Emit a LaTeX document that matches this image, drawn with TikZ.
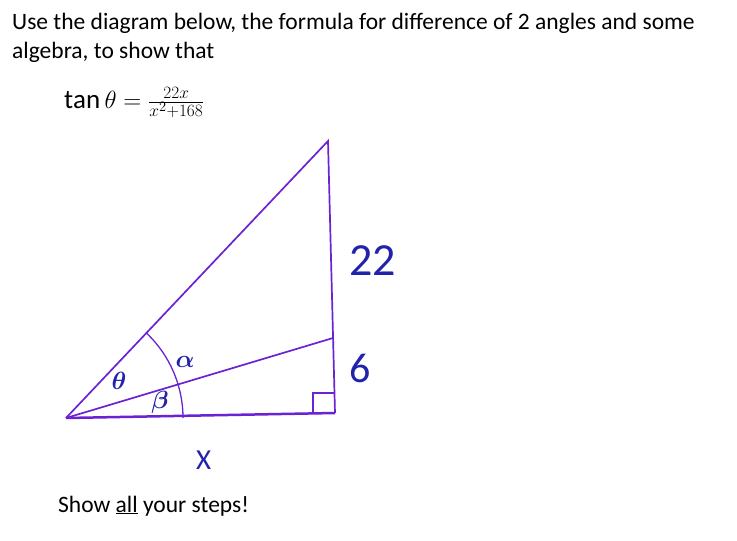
\documentclass[tikz,border=0pt]{standalone}
\usepackage{fontspec}
\setmainfont{Carlito}
\usetikzlibrary{positioning}
\definecolor{edgepurple}{RGB}{106,34,210}
\definecolor{labelblue}{RGB}{34,34,170}
\tikzset{
    side/.style={draw=edgepurple, line width=1.7pt},
    base side/.style={draw=edgepurple, line width=2.5pt},
    angle label/.style={text=labelblue, font=\fontsize{30}{34}\selectfont\boldmath, inner sep=0pt},
    length label/.style={text=labelblue, inner sep=0pt, anchor=base west},
    prose/.style={font=\fontsize{23.5}{28}\selectfont, inner sep=0pt, anchor=base west}
}
\begin{document}
\begin{tikzpicture}[x=1pt,y=-1pt]
    \useasboundingbox (0,0) rectangle (737,541);
    % question text
    \node[prose] (line1) at (12,29) {Use the diagram below, the formula for difference of 2 angles and some};
    \node[prose] (line2) at (12,58) {algebra, to show that};
    \node[prose, font=\fontsize{27}{30}\selectfont] (formula) at (64,108) {$\tan\theta = \frac{22x}{x^2+168}$};
    % triangle corners
    \coordinate (O) at (66,418);
    \coordinate (C) at (335,413);
    \coordinate (T) at (328,141);
    \coordinate (M) at (333,338);
    \draw[side] (O) -- (T) -- (C);
    \draw[base side] (O) -- (C);
    \draw[side] (O) -- (M);
    % right angle
    \draw[side, line width=1.3pt] (313,413) -- (313,393) -- (334,393);
    % angle arc
    \draw[side, line width=1.3pt] (O) ++(-46.6:117) arc[start angle=-46.6, end angle=0, radius=117];
    % labels
    \node[angle label] (theta) at (119,381) {$\theta$};
    \node[angle label] (alpha) at (185,362) {$\alpha$};
    \node[angle label] (beta) at (160,402) {$\beta$};
    \node[length label, font=\fontsize{46}{50}\selectfont] (big) at (349,275) {22};
    \node[length label, font=\fontsize{42}{46}\selectfont] (small) at (349,382) {6};
    \node[length label, font=\fontsize{29}{32}\selectfont] (xlen) at (196,469) {X};
    \node[prose] (steps) at (58,512) {Show \underline{all} your steps!};
\end{tikzpicture}
\end{document}
